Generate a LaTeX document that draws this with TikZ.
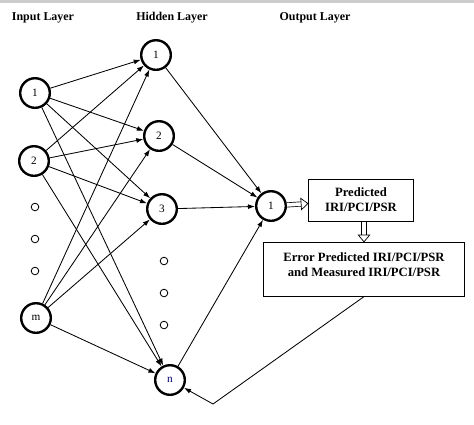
\documentclass[tikz,border=0pt]{standalone}
\usepackage{fontspec}
\setmainfont{Liberation Serif}
\usetikzlibrary{arrows.meta,positioning}

\begin{document}
\begin{tikzpicture}[x=0.025cm, y=-0.025cm, >={Latex[length=5pt,width=3.5pt]}, line width=0.6pt]
\tikzstyle{neuron} = [circle, draw, line width=1.7pt, minimum size=0.74cm, inner sep=0pt, font=\fontsize{8}{9}\selectfont]
\tikzstyle{gap} = [circle, draw, line width=0.6pt, minimum size=0.19cm, inner sep=0pt]
\tikzstyle{title} = [font=\fontsize{8.5}{10}\selectfont\bfseries]
\tikzstyle{box} = [draw, line width=0.7pt, font=\fontsize{9}{10.5}\selectfont\bfseries, align=center]
\tikzset{hollow/.style={double, double distance=2.6pt, line width=0.5pt, -{Triangle[open, length=5.5pt, width=9pt]}}}
\useasboundingbox (0,0) rectangle (474,424);
\fill[gray!40] (0,0) rectangle (474,3);
% layer titles
\node[title] (tin) at (43,18) {Input Layer};
\node[title] (thid) at (172,18) {Hidden Layer};
\node[title] (tout) at (315,18) {Output Layer};
% input layer
\node[neuron] (i1) at (35,93) {1};
\node[neuron] (i2) at (34,161) {2};
\node[neuron] (im) at (36,318) {m};
\foreach \y [count=\k] in {207,239,271}
  \node[gap] (ig\k) at (35,\y) {};
% hidden layer
\node[neuron] (h1) at (156,55) {1};
\node[neuron] (h2) at (159,136) {2};
\node[neuron] (h3) at (162,209) {3};
\node[neuron, text=blue!45!black] (hn) at (170,380) {n};
\foreach \y [count=\k] in {261,293,325}
  \node[gap] (hg\k) at (164,\y) {};
% output layer
\node[neuron] (o1) at (271,206) {1};
\node[box, minimum width=2.6cm, minimum height=1.05cm] (pred) at (361,200) {Predicted\\IRI/PCI/PSR};
\node[box, minimum width=5cm, minimum height=1.33cm,
  label={[font=\fontsize{9}{10.5}\selectfont\bfseries, align=center, anchor=north, yshift=-4pt]north:Error Predicted IRI/PCI/PSR\\and Measured IRI/PCI/PSR}] (err) at (364,269.5) {};
% connections
\foreach \from in {i1,i2,im}
  \foreach \to in {h1,h2,h3,hn}
    \draw[->] (\from) -- (\to);
\foreach \from in {h1,h2,h3,hn}
  \draw[->] (\from) -- (o1);
\draw[hollow] (o1) -- (pred);
\draw[hollow] (pred.south -| 364,0) -- (err.north -| 364,0);
\coordinate (fb) at (213,404);
\draw[->] (err.south) -- (fb) -- (hn);
\end{tikzpicture}
\end{document}
